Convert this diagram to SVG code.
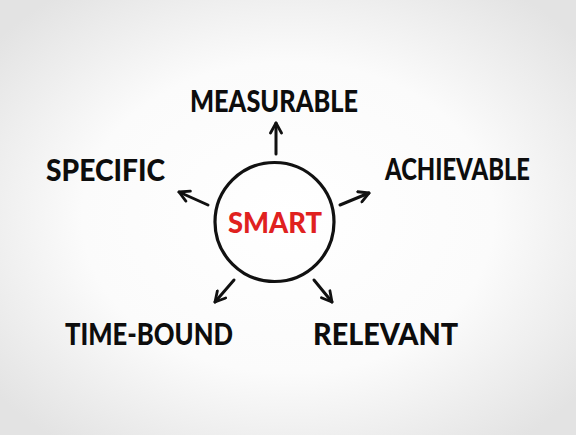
<svg xmlns="http://www.w3.org/2000/svg" width="576" height="435" viewBox="0 0 576 435">
  <defs>
    <radialGradient id="bg" cx="50%" cy="50%" r="65%">
      <stop offset="0" stop-color="#ffffff"/>
      <stop offset="0.55" stop-color="#fbfbfb"/>
      <stop offset="1" stop-color="#e3e3e3"/>
    </radialGradient>
    <marker id="head" viewBox="0 0 14 14" refX="12" refY="7" markerWidth="14" markerHeight="14" markerUnits="userSpaceOnUse" orient="auto">
      <polyline points="2,1.5 12,7 2,12.5" fill="none" stroke="#111" stroke-width="2.8" stroke-linecap="round" stroke-linejoin="round"/>
    </marker>
  </defs>
  <style>
    .lbl { font-family: Lato, "Liberation Sans", sans-serif; font-weight: 900; font-size: 30px; fill: #0d0d0d; text-transform: uppercase; }
    .arrow { stroke: #111; stroke-width: 3; fill: none; stroke-linecap: round; marker-end: url(#head); }
  </style>
  <rect width="576" height="435" fill="url(#bg)"/>

  <g id="center">
    <circle cx="274.5" cy="222" r="59.5" fill="none" stroke="#111" stroke-width="3.2"/>
    <text x="228" y="233" textLength="94" lengthAdjust="spacingAndGlyphs" style="font-family: Lato, 'Liberation Sans', sans-serif; font-weight: 900; font-size: 29px; fill: #e0211f;">SMART</text>
  </g>

  <g id="connectors">
    <line class="arrow" x1="276" y1="154" x2="276" y2="123"/>
    <line class="arrow" x1="208" y1="205" x2="179" y2="192"/>
    <line class="arrow" x1="340" y1="205" x2="369" y2="193"/>
    <line class="arrow" x1="234" y1="280" x2="215" y2="302"/>
    <line class="arrow" x1="314" y1="280" x2="332" y2="302"/>
  </g>

  <g id="measurable"><text class="lbl" x="190" y="112" textLength="168" lengthAdjust="spacingAndGlyphs">measurable</text></g>
  <g id="specific"><text class="lbl" x="46" y="181" textLength="119" lengthAdjust="spacingAndGlyphs">specific</text></g>
  <g id="achievable"><text class="lbl" x="385" y="180" textLength="145" lengthAdjust="spacingAndGlyphs">achievable</text></g>
  <g id="time-bound"><text class="lbl" x="65" y="345" textLength="168" lengthAdjust="spacingAndGlyphs">Time-Bound</text></g>
  <g id="relevant"><text class="lbl" x="313" y="345" textLength="145" lengthAdjust="spacingAndGlyphs">Relevant</text></g>
</svg>
